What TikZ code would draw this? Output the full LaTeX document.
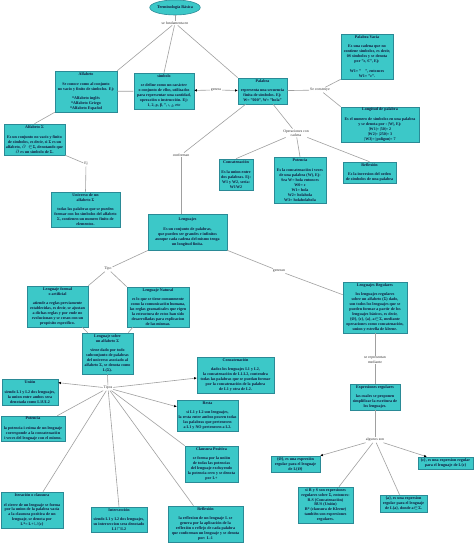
\documentclass[tikz,border=0pt]{standalone}
\usepackage{fontspec}
\setmainfont{Liberation Serif}
\usetikzlibrary{shapes.geometric,arrows.meta,calc}
\definecolor{boxfill}{HTML}{3CC8C8}
\definecolor{boxline}{HTML}{2A8A96}
\definecolor{lnk}{HTML}{A0A0A0}
\definecolor{txt}{HTML}{10163A}
\newcommand{\mybox}[6]{\node[box,minimum width=#4pt,minimum height=#5pt] (#1) at (#2,#3) {#6};}
\begin{document}
\begin{tikzpicture}[x=1pt,y=-1pt,
 box/.style={draw=boxline, fill=boxfill, line width=0.6pt, inner sep=0.5pt, align=center, text=txt, font=\bfseries\fontsize{4.05}{4.95}\selectfont},
 lbl/.style={inner sep=0.8pt, align=center, text=black!80, font=\fontsize{3.8}{4.3}\selectfont},
 conn/.style={draw=lnk, line width=0.6pt},
 arr/.style={conn, -{Triangle[length=2.6pt,width=2.2pt,color=black]}},
 arrb/.style={conn, {Triangle[length=2.6pt,width=2.2pt,color=black]}-{Triangle[length=2.6pt,width=2.2pt,color=black]}}
]
\useasboundingbox[fill=white] (0,0) rectangle (474,543);

\node[ellipse, draw=boxline, fill=boxfill, line width=0.6pt, minimum width=45pt, minimum height=15pt, inner sep=0pt, text=txt, font=\bfseries\fontsize{4.1}{4.6}\selectfont] (title) at (175,7.5) {Terminología Básica};

\mybox{alf}{86}{91.5}{62}{41}{Alfabeto\\[4.6pt]Se conoce como al conjunto\\no vacío y finito de símbolos. Ej:\\[4.6pt]*Alfabeto inglés\\*Alfabeto Griego\\*Alfabeto Español}
\mybox{sim}{164}{91}{60}{36}{símbolo\\[4.6pt]se define como un carácter\\o conjunto de ellos, utilizados\\para representar una cantidad,\\operación o instrucción. Ej:\\1, 2, ρ, β, ", :, ¿, etc}
\mybox{pal}{262.5}{91}{49}{26}{Palabra\\[4.6pt]representa una secuencia\\finita de símbolos. Ej:\\W= "000", W= "hola"}
\mybox{pvac}{367}{56.5}{52}{45}{Palabra Vacía\\[4.6pt]Es una cadena que no\\contiene símbolos, es decir,\\0S símbolos y se denota\\por "ε, Є", Ej:\\[4.6pt]W1= "\ \ \ \ ", entonces\\W1= "ε".}
\mybox{lon}{380}{124.5}{78}{35}{Longitud de palabra\\[4.6pt]Es el numero de símbolos en una palabra\\y se denota por : |W|, Ej:\\|W1|= |50|= 2\\|W2|= |250|= 3\\|W3|= |polígon|= 7}
\mybox{alfS}{34.5}{139.5}{61}{31}{Alfabeto Σ\\[4.6pt]Es un conjunto no vacío y finito\\de símbolos, es decir, si Σ es un\\alfabeto, $\partial\in$Σ, denotando que\\$\partial$ es un símbolo de Σ.}
\mybox{uni}{85.5}{209.5}{69}{35}{Universo de un\\alfabeto Σ\\[4.6pt]todas las palabras que se pueden\\formar con los símbolos del alfabeto\\Σ, contienen un numero finito de\\elementos.}
\mybox{conc}{236}{174.5}{34}{31}{Concatenación\\[4.6pt]Es la union entre\\dos palabras. Ej:\\W1 y W2, sería:\\W1W2}
\mybox{pot}{300}{180}{52}{46}{Potencia\\[4.6pt]Es la concatenación i veces\\de una palabra (W), Ej:\\Sea W= hola entonces\\W0= ε\\W1= hola\\W2= holahola\\W3= holaholahola}
\mybox{refl}{369.5}{172.5}{53}{21}{Reflexión\\[4.6pt]Es la inversion del orden\\de símbolos de una palabra}
\mybox{leng}{187.5}{232}{79}{36}{Lenguajes\\[4.6pt]Es un conjunto de palabras,\\que pueden ser grandes e infinitos\\aunque cada cadena del mismo tenga\\un longitud finita.}
\mybox{lform}{57.5}{306.5}{61}{41}{Lenguaje formal\\o artificial\\[4.6pt]atiende a reglas previamente\\establecidas, es decir, se ajustan\\a dichas reglas y por ende no\\evolucionan y se crean con un\\propósito especifico.}
\mybox{lnat}{158}{307}{62}{40}{Lenguaje Natural\\[4.6pt]es lo que se tiene comunmente\\como la comunicación humana,\\las reglas gramaticales que rigen\\la estructura de estos han sido\\desarrolladas para explicacion\\de las mismas.}
\mybox{lsob}{107.5}{353.5}{51}{41}{Lenguaje sobre\\un alfabeto Σ\\[4.6pt]viene dado por todo\\subconjunto de palabras\\del universo asociado al\\alfabeto Σ, se denota como\\L(Σ).}
\mybox{lreg}{375}{307.5}{64}{51}{Lenguajes Regulares\\[4.6pt]los lenguajes regulares\\sobre un alfabeto (Σ) dado,\\son todos los lenguajes que se\\pueden formar a partir de los\\lenguajes básicos, es decir,\\\{Ø\}, \{ε\}, \{a\}, a$\in$Σ, mediante\\operaciones como concatenación,\\union y estrella de kleene.}
\mybox{expr}{375}{397}{50}{26}{Expresiones regulares\\[4.6pt]las cuales se proponen\\simplificar la escritura de\\los lenguajes.}
\mybox{union}{30}{392}{56}{26}{Unión\\[4.6pt]siendo L1 y L2 dos lenguajes,\\la union entre ambos sera\\denotada como L1UL2}
\mybox{concL}{235.5}{375}{77}{36}{Concatenación\\[4.6pt]dados los lenguajes L1 y L2,\\la concatenación de L1.L2, contendra\\todas las palabras que se puedan formar\\por la concatenación de la palabra\\de L1 y otra de L2.}
\mybox{potL}{33}{428.5}{64}{25}{Potencia\\[4.6pt]la potencia i-esima de un lenguaje\\corresponde a la concatenación\\i veces del lenguaje con el mismo.}
\mybox{resta}{207.5}{415.5}{61}{31}{Resta\\[4.6pt]si L1 y L2 son lenguajes,\\la resta entre ambos poseen todas\\las palabras que pertenecen\\a L1 y NO pertenecen a L2.}
\mybox{claus}{211.5}{464}{53}{36}{Clausura Positiva\\[4.6pt]se forma por la unión\\de todas las potencias\\del lenguaje excluyendo\\la potencia cero y se denota\\por L+}
\mybox{iter}{32}{510}{62}{36}{Iteración o clausura\\[4.6pt]el cierre de un lenguaje se forma\\por la union de la palabra vacía\\a la clausura positiva de un\\lenguaje, se denota por\\L*= L+$\cup$\{ε\}}
\mybox{inter}{119}{519.5}{56}{25}{Intersección\\[4.6pt]siendo L1 y L2 dos lenguajes,\\su interseccion sera denotado\\L1$\cap$L2}
\mybox{reflL}{205.5}{524}{75}{36}{Reflexión\\[4.6pt]la reflexion de un lenguaje L se\\genera por la aplicación de la\\reflexión o reflejo de cada palabra\\que conforman un lenguaje y se denota\\por: L-1}
\mybox{eVac}{295.5}{464}{49}{16}{\{Ø\}, es una expresión\\regular para el lenguaje\\de L\{Ø\}}
\mybox{eRS}{325.5}{505}{55}{36}{si R y S son expresiones\\regulares sobre Σ, entonces:\\R.S (Concatenación)\\RUS (Unión)\\R* (clausura de Kleene)\\también son expresiones\\regulares.}
\mybox{eEps}{445.5}{463}{55}{12}{\{ε\}, es una expresion regular\\para el lenguaje de L\{ε\}}
\mybox{eA}{403.5}{503.5}{47}{17}{\{a\}, es una expresion\\regular para el lenguaje\\de L\{a\}, donde a$\in$Σ.}

\node[lbl] (lfund) at (175,23) {se fundamenta en};
\node[lbl] (lgen) at (216,90) {genera};
\node[lbl] (lcons) at (320,90) {Se construye};
\node[lbl] (lop) at (296,133) {Operaciones con\\cadena};
\node[lbl] (lconf) at (181,155) {conforman};
\node[lbl] (lej) at (86,164) {Ej};
\node[lbl] (ltipo) at (108,269) {Tipo};
\node[lbl] (lgenn) at (279,271) {generan};
\node[lbl] (ltipos) at (108,388) {Tipos};
\node[lbl] (lrep) at (375,360) {se representan\\mediante};
\node[lbl] (lalg) at (375,440) {algunos son};

\draw[conn] (title) -- (lfund);
\draw[conn] (lfund) -- (alf.north east);
\draw[conn] (lfund) -- (sim.north);
\draw[conn] (lfund) -- (pal.north west);
\draw[conn] (alf) -- (sim);
\draw[conn] (alf.south west) -- (alfS.north);
\draw[conn] (alfS.south east) -- (lej);
\draw[conn] (lej) -- (uni.north);
\draw[arr] (lgen) -- (sim);
\draw[arr] (lgen) -- (pal);
\draw[conn] (pal) -- (lcons);
\draw[conn] (lcons) -- (pvac.south west);
\draw[conn] (lcons) -- (lon.north west);
\draw[conn] (pal) -- (lop);
\draw[conn] (lop) -- (conc.north);
\draw[conn] (lop) -- (pot.north);
\draw[conn] (lop) -- (refl.north);
\draw[conn] (pal) -- (lconf);
\draw[conn] (lconf) -- (lconf |- leng.north);
\draw[conn] (leng) -- (ltipo);
\draw[conn] (ltipo) -- (lform.north east);
\draw[conn] (ltipo) -- (lnat.north west);
\draw[conn] ($(lform.south east)+(-6,0)$) -- ($(lsob.north west)+(6,0)$);
\draw[conn] ($(lnat.south west)+(6,0)$) -- ($(lsob.north east)+(-5,0)$);
\draw[conn] (lsob.south) -- (ltipos);
\draw[arr] (ltipos) -- ($(union.north east)+(0,4)$);
\draw[arr] (ltipos) -- ($(concL.west)+(0,3)$);
\draw[arr] (ltipos) -- ($(resta.north west)+(0,7)$);
\draw[conn] (ltipos) -- ($(potL.north east)+(-8,0)$);
\draw[conn] (ltipos) -- ($(iter.north)+(11,0)$);
\draw[conn] (ltipos) -- (inter.north);
\draw[conn] (ltipos) -- (claus.north west);
\draw[conn] (ltipos) -- ($(reflL.north)+(-12,0)$);
\draw[conn] (leng.south east) -- (lgenn);
\draw[conn] (lgenn) -- ($(lreg.north west)+(0,13)$);
\draw[conn] (lreg.south) -- (lrep);
\draw[conn] (lrep) -- (expr.north);
\draw[conn] (expr.south) -- (lalg);
\draw[arr] (lalg) -- (eVac.north east);
\draw[conn] (lalg) -- ($(eRS.north)+(13.5,0)$);
\draw[conn] (lalg) -- ($(eA.north)+(-4,0)$);
\draw[arr] (lalg) -- ($(eEps.north west)+(9,0)$);
\end{tikzpicture}
\end{document}
